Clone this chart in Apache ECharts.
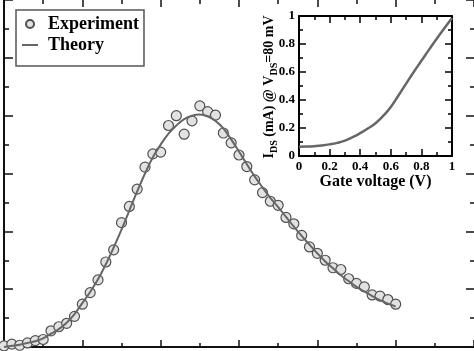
<!DOCTYPE html>
<html>
<head>
<meta charset="utf-8">
<script src="https://cdn.jsdelivr.net/npm/echarts@6/dist/echarts.min.js"></script>
<style>html,body{margin:0;padding:0;background:#fff}#c{width:474px;height:351px}</style>
</head>
<body>
<div id="c"></div>
<script>
// Main panel: experiment (circles) vs theory (line), arbitrary units
var expX = [0.0,0.1,0.2,0.3,0.4,0.5,0.6,0.7,0.8,0.9,1.0,1.1,1.2,1.3,1.4,1.5,1.6,1.7,1.8,1.9,2.0,2.1,2.2,2.3,2.4,2.5,2.6,2.7,2.8,2.9,3.0,3.1,3.2,3.3,3.4,3.5,3.6,3.7,3.8,3.9,4.0,4.1,4.2,4.3,4.4,4.5,4.6,4.7,4.8,4.9,5.0];
var expY = [0.02,0.05,0.03,0.07,0.11,0.13,0.28,0.35,0.41,0.53,0.74,0.94,1.16,1.47,1.68,2.15,2.43,2.73,3.11,3.34,3.37,3.83,4.00,3.68,3.91,4.17,4.07,4.01,3.70,3.53,3.32,3.12,2.89,2.67,2.52,2.45,2.24,2.13,1.93,1.73,1.62,1.50,1.37,1.34,1.18,1.10,1.04,0.90,0.88,0.82,0.74];
var theoryX = [0.0,0.1,0.2,0.3,0.4,0.5,0.6,0.7,0.8,0.9,1.0,1.1,1.2,1.3,1.4,1.5,1.6,1.7,1.8,1.9,2.0,2.1,2.2,2.3,2.4,2.5,2.6,2.7,2.8,2.9,3.0,3.1,3.2,3.3,3.4,3.5,3.6,3.7,3.8,3.9,4.0,4.1,4.2,4.3,4.4,4.5,4.6,4.7,4.8,4.9,5.0];
var theoryY = [0.00,0.02,0.04,0.07,0.10,0.15,0.23,0.31,0.42,0.57,0.76,0.95,1.17,1.43,1.72,2.03,2.36,2.69,3.00,3.28,3.50,3.69,3.83,3.94,4.00,4.02,3.99,3.91,3.78,3.59,3.38,3.16,2.95,2.76,2.58,2.42,2.25,2.08,1.92,1.77,1.62,1.48,1.36,1.24,1.14,1.04,0.96,0.88,0.81,0.75,0.70];
// Inset: I_DS (mA) vs gate voltage (V)
var gateV = [0.0,0.05,0.1,0.15,0.2,0.25,0.3,0.35,0.4,0.45,0.5,0.55,0.6,0.65,0.7,0.75,0.8,0.85,0.9,0.95,1.0];
var ids = [0.066,0.067,0.070,0.075,0.083,0.094,0.110,0.134,0.163,0.196,0.234,0.286,0.350,0.432,0.517,0.600,0.680,0.760,0.838,0.912,0.985];
var legendNames = ['Experiment','Theory'];
var insetXName = 'Gate voltage (V)';

function zip(a,b){var o=[];for(var i=0;i<a.length;i++)o.push([a[i],b[i]]);return o;}
var SERIF = '"Liberation Serif","DejaVu Serif",serif';
var chart = echarts.init(document.getElementById('c'), null, {renderer:'canvas'});

function mainAxis(pos, len, mlen, showLine){
  return {
    gridIndex:0, type:'value', min:0, max:6, interval:1, position:pos,
    axisLine:{show:showLine, onZero:false, lineStyle:{color:'#111', width:2}},
    axisTick:{show:true, inside:true, length:len, lineStyle:{color:'#111', width:1.5}},
    minorTick:{show:true, splitNumber:2, length:mlen, lineStyle:{color:'#111', width:1.5}},
    axisLabel:{show:false}, splitLine:{show:false}, minorSplitLine:{show:false}
  };
}
function insetAxis(pos, labels){
  return {
    gridIndex:1, type:'value', min:0, max:1, interval:0.2, position:pos,
    axisLine:{show:true, onZero:false, lineStyle:{color:'#000', width:2}},
    axisTick:{show:true, inside:true, length:7, lineStyle:{color:'#000', width:1.5}},
    minorTick:{show:true, splitNumber:2, length:4, lineStyle:{color:'#000', width:1.5}},
    axisLabel:{show:labels, margin:4, color:'#000', fontFamily:SERIF, fontWeight:'bold', fontSize:13},
    splitLine:{show:false}, minorSplitLine:{show:false}
  };
}
var xb = insetAxis('bottom', true);
xb.name = insetXName; xb.nameLocation = 'middle'; xb.nameGap = 14;
xb.nameTextStyle = {color:'#000', fontFamily:SERIF, fontWeight:'bold', fontSize:16, verticalAlign:'top'};

var option = {
  animation:false,
  backgroundColor:'#fff',
  grid:[
    {left:4, right:-0.4, top:-1, bottom:4},
    {left:299, top:16, right:22, bottom:195}
  ],
  xAxis:[ mainAxis('bottom',7,4,true), mainAxis('top',7,4,false), xb, insetAxis('top', false) ],
  yAxis:[ mainAxis('left',9,5,true), mainAxis('right',8,4,false), insetAxis('left', true), insetAxis('right', false) ],
  legend:{
    data:[
      {name:legendNames[0], icon:'circle'},
      {name:legendNames[1], icon:'path://M0,0 L16,0 L16,2 L0,2 Z', itemStyle:{color:'#666'}}
    ],
    orient:'vertical', left:16, top:10,
    padding:[4,5,11,6], itemGap:1, itemWidth:16, itemHeight:8,
    borderColor:'#555', borderWidth:1.5, backgroundColor:'#fff',
    textStyle:{color:'#000', fontFamily:SERIF, fontWeight:'bold', fontSize:18, lineHeight:20, padding:[0,0,0,5]}
  },
  graphic:[{
    type:'text', x:271, y:87, rotation:Math.PI/2, z:100,
    style:{
      text:'{b|I}{s|DS}{b| (mA) @ V}{s|DS}{b|=80 mV}',
      align:'center', verticalAlign:'middle', fill:'#000',
      rich:{
        b:{fontFamily:SERIF, fontWeight:'bold', fontSize:14, fill:'#000', verticalAlign:'bottom', padding:[0,0,3,0]},
        s:{fontFamily:SERIF, fontWeight:'bold', fontSize:10, fill:'#000', verticalAlign:'bottom'}
      }
    }
  }],
  series:[
    {name:legendNames[0], type:'scatter', xAxisIndex:0, yAxisIndex:0, data:zip(expX,expY),
     symbol:'circle', symbolSize:10, z:2,
     itemStyle:{color:'#e2e2e2', borderColor:'#505050', borderWidth:1.2, opacity:1}},
    {name:legendNames[1], type:'line', xAxisIndex:0, yAxisIndex:0, data:zip(theoryX,theoryY),
     smooth:0.4, symbol:'none', z:3, lineStyle:{color:'#666', width:2}, itemStyle:{color:'#666'}},
    {name:'inset', type:'line', xAxisIndex:2, yAxisIndex:2, data:zip(gateV,ids),
     smooth:0.5, symbol:'none', lineStyle:{color:'#666', width:2.5}}
  ]
};
chart.setOption(option);
</script>
</body>
</html>
